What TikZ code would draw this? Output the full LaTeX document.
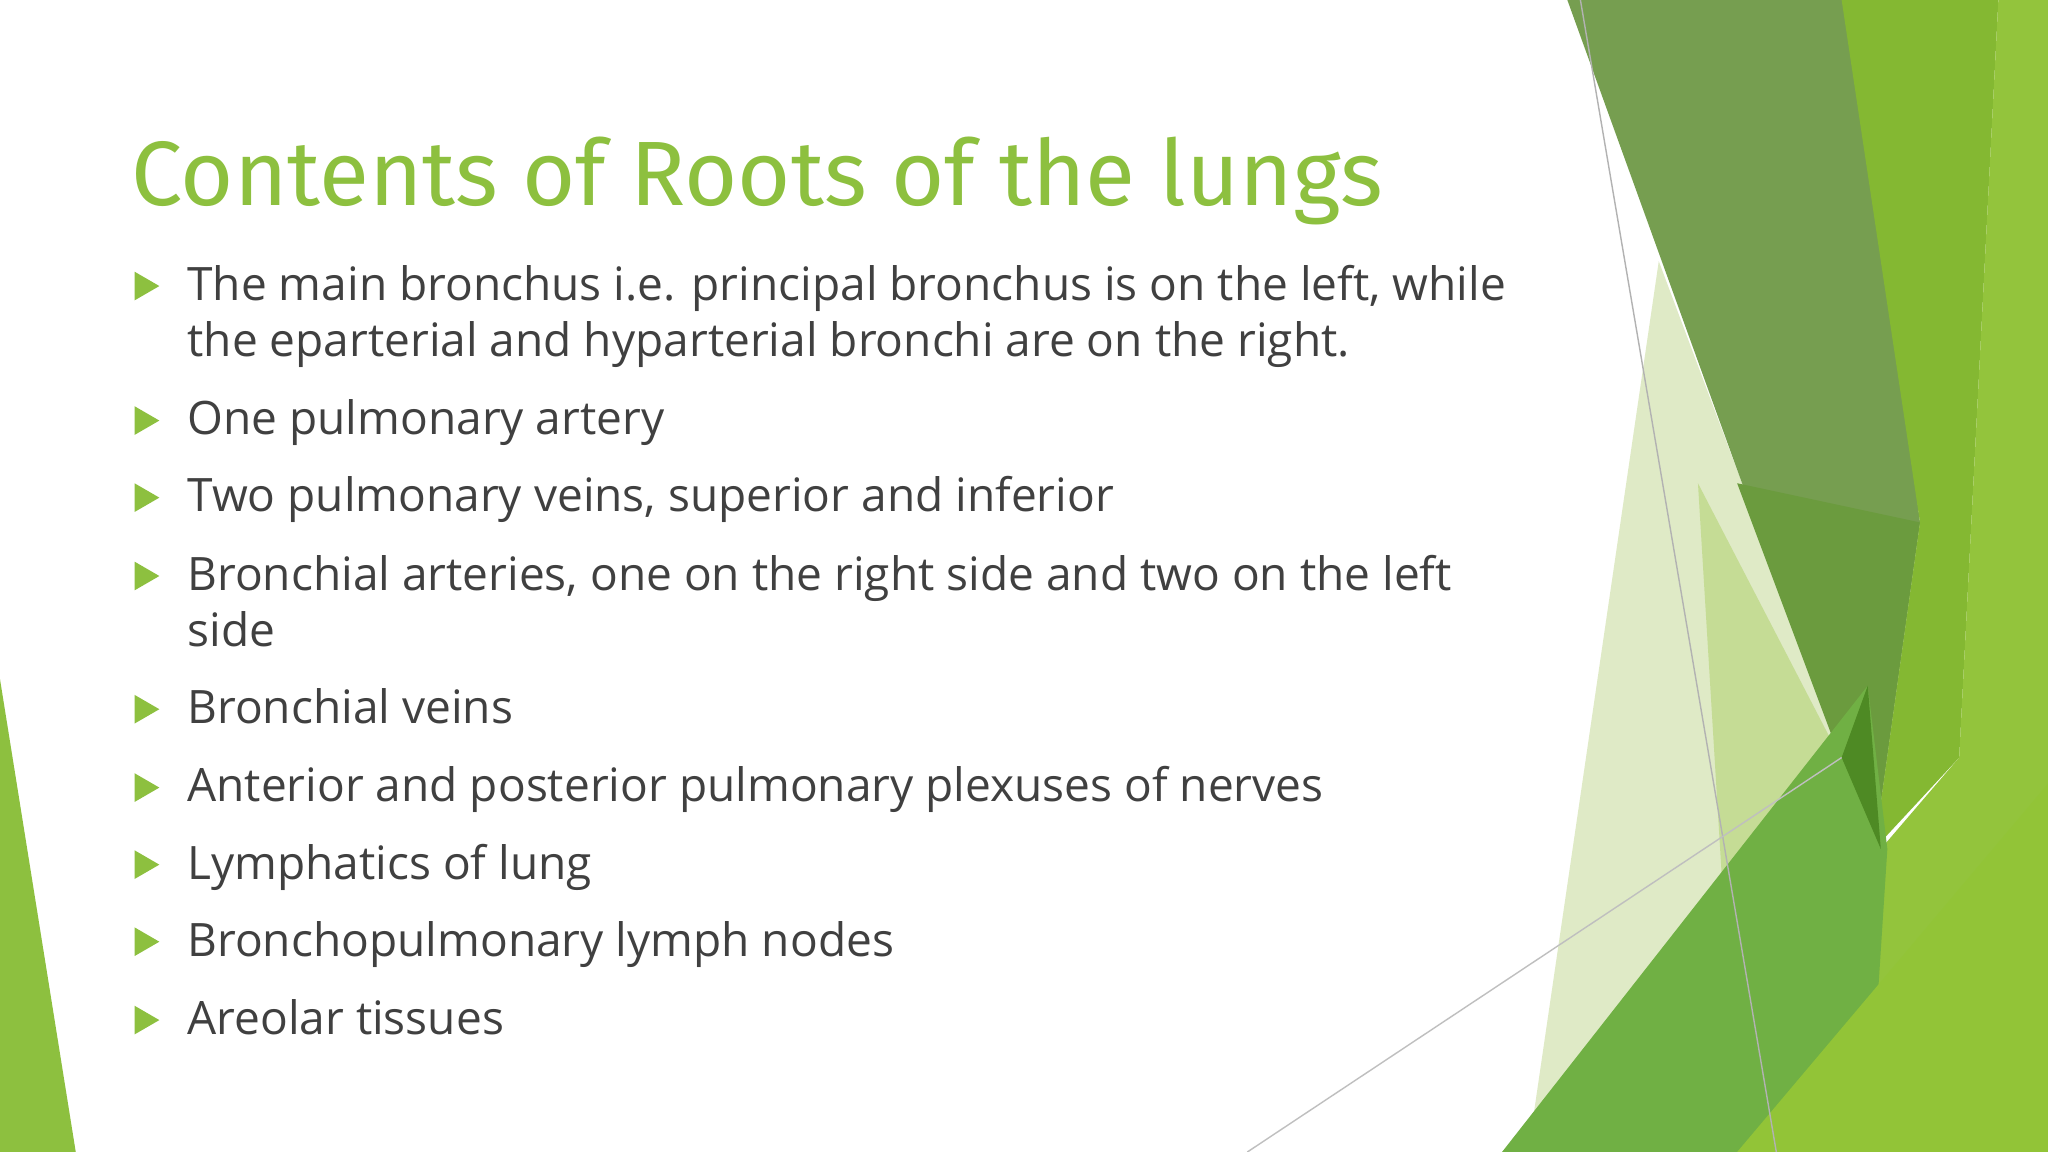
\documentclass[tikz,border=0pt]{standalone}
\usepackage{fontspec}
\setmainfont{Open Sans}
\newfontfamily\titlefont{Fira Sans}
\begin{document}
\begin{tikzpicture}[x=0.01306cm,y=-0.01306cm,
  bul/.style={fill=bulgreen,draw=none},
  item/.style={anchor=base west,inner sep=0pt,font=\fontsize{13.1}{19}\selectfont,text=txt}]
\definecolor{bulgreen}{HTML}{8DC03F}
\definecolor{txt}{HTML}{404040}
\useasboundingbox[fill=white] (0,0) rectangle (1568,882);
% left strip
\fill[bulgreen] (0,520) -- (58,882) -- (0,882) -- cycle;
% right decoration
\fill[fill={rgb,255:red,223;green,234;blue,198}] (1270,200) -- (1420,600) -- (1200,882) -- (1170,882) -- cycle;
\fill[fill={rgb,255:red,197;green,220;blue,149}] (1300,370) -- (1440,640) -- (1320,700) -- cycle;
\fill[fill={rgb,255:red,118;green,158;blue,80}] (1200,0) -- (1420,0) -- (1470,400) -- (1435,650) -- cycle;
\fill[fill={rgb,255:red,107;green,155;blue,62}] (1330,370) -- (1470,400) -- (1435,650) -- cycle;
\fill[fill={rgb,255:red,132;green,184;blue,50}] (1410,0) -- (1530,0) -- (1500,580) -- (1435,650) -- (1470,400) -- cycle;
\fill[fill={rgb,255:red,147;green,196;blue,60}] (1530,0) -- (1568,0) -- (1568,882) -- (1420,882) -- (1440,650) -- (1500,580) -- cycle;
\fill[fill={rgb,255:red,112;green,176;blue,68}] (1430,525) -- (1150,882) -- (1430,882) -- (1445,650) -- cycle;
\fill[fill={rgb,255:red,78;green,138;blue,36}] (1410,580) -- (1430,525) -- (1440,650) -- cycle;
\fill[fill={rgb,255:red,146;green,196;blue,55}] (1330,882) -- (1568,600) -- (1568,882) -- cycle;
\draw[gray!60,line width=0.4pt] (1210,0) -- (1360,882);
\draw[gray!50,line width=0.4pt] (955,882) -- (1410,580);
% title
\node[anchor=base west,inner sep=0pt,text=bulgreen,font=\titlefont\fontsize{26}{30}\selectfont] (title) at (100,157) {Contents of Roots of the lungs};
% bullets
\foreach \y in {230,333,392,452,554,614,673,732,792}
  \fill[bul] (103,\y-22) -- (122,\y-11) -- (103,\y) -- cycle;
\node[item] (t1) at (143,230) {The main bronchus i.e. principal bronchus is on the left, while};
\node[item] (t1b) at (143,273) {the eparterial and hyparterial bronchi are on the right.};
\node[item] (t2) at (143,333) {One pulmonary artery};
\node[item] (t3) at (143,392) {Two pulmonary veins, superior and inferior};
\node[item] (t4) at (143,452) {Bronchial arteries, one on the right side and two on the left};
\node[item] (t4b) at (143,495) {side};
\node[item] (t5) at (143,554) {Bronchial veins};
\node[item] (t6) at (143,614) {Anterior and posterior pulmonary plexuses of nerves};
\node[item] (t7) at (143,673) {Lymphatics of lung};
\node[item] (t8) at (143,732) {Bronchopulmonary lymph nodes};
\node[item] (t9) at (143,792) {Areolar tissues};
\end{tikzpicture}
\end{document}
